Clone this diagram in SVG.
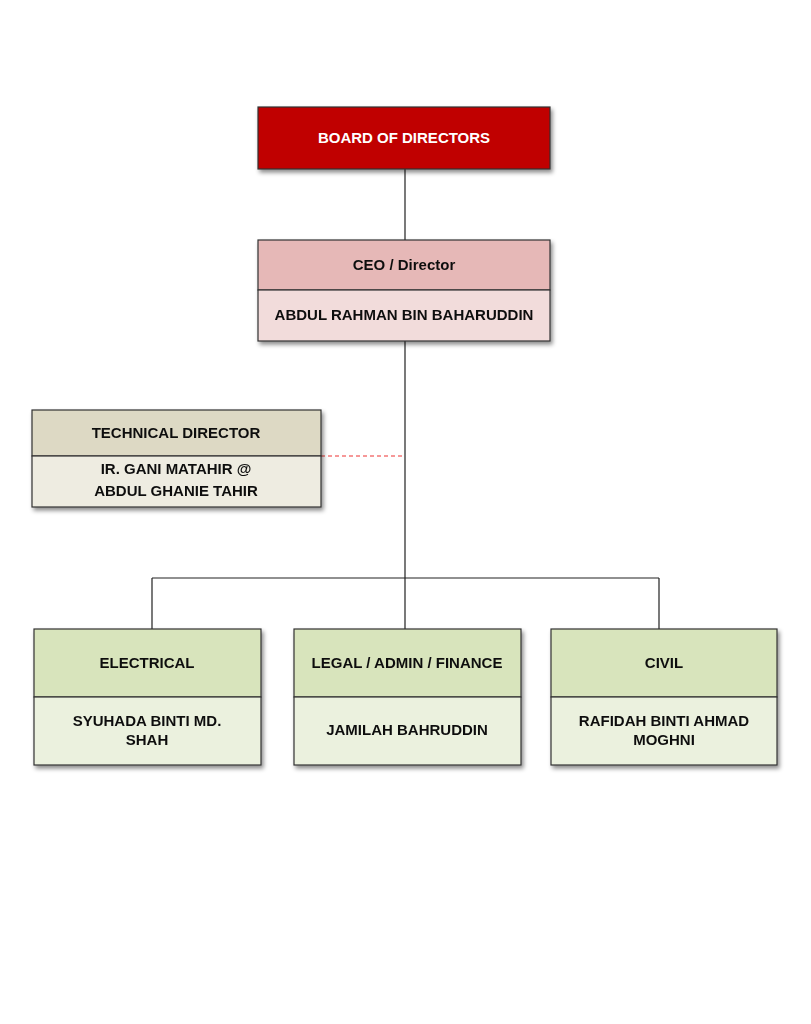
<svg xmlns="http://www.w3.org/2000/svg" width="811" height="1024" viewBox="0 0 811 1024">
<defs>
<filter id="sh" x="-10%" y="-10%" width="130%" height="140%"><feDropShadow dx="2" dy="3" stdDeviation="2" flood-color="#000" flood-opacity="0.45"/></filter>
</defs>
<style>
rect{stroke:#333;stroke-width:1.2}
text{font-family:"Liberation Sans",Arial,sans-serif;font-weight:bold;font-size:15px;text-anchor:middle;fill:#111}
.w{fill:#fff}
.c{stroke:#222;stroke-width:1.2;fill:none}
</style>
<rect width="811" height="1024" fill="#fff" style="stroke:none"/>
<g id="connectors">
<path class="c" d="M405 169V240M405 341V578M152 578H659M152 578V629M405 578V629M659 578V629"/>
<path d="M321 456H405" stroke="#e33" stroke-width="1.2" stroke-dasharray="4,3" fill="none"/>
</g>
<g id="board">
<rect x="258" y="107" width="292" height="62" fill="#c00000" filter="url(#sh)"/>
<text x="404" y="143" class="w">BOARD OF DIRECTORS</text>
</g>
<g id="ceo" filter="url(#sh)">
<rect x="258" y="240" width="292" height="50" fill="#e6b8b7"/>
<rect x="258" y="290" width="292" height="51" fill="#f2dcdb"/>
<text x="404" y="270">CEO / Director</text>
<text x="404" y="320">ABDUL RAHMAN BIN BAHARUDDIN</text>
</g>
<g id="tech" filter="url(#sh)">
<rect x="32" y="410" width="289" height="46" fill="#ddd9c4"/>
<rect x="32" y="456" width="289" height="51" fill="#eeece1"/>
<text x="176" y="438">TECHNICAL DIRECTOR</text>
<text x="176" y="474">IR. GANI MATAHIR @</text>
<text x="176" y="496">ABDUL GHANIE TAHIR</text>
</g>
<g id="electrical" filter="url(#sh)">
<rect x="34" y="629" width="227" height="68" fill="#d8e4bc"/>
<rect x="34" y="697" width="227" height="68" fill="#ebf1de"/>
<text x="147" y="668">ELECTRICAL</text>
<text x="147" y="726">SYUHADA BINTI MD.</text>
<text x="147" y="745">SHAH</text>
</g>
<g id="legal" filter="url(#sh)">
<rect x="294" y="629" width="227" height="68" fill="#d8e4bc"/>
<rect x="294" y="697" width="227" height="68" fill="#ebf1de"/>
<text x="407" y="668">LEGAL / ADMIN / FINANCE</text>
<text x="407" y="735">JAMILAH BAHRUDDIN</text>
</g>
<g id="civil" filter="url(#sh)">
<rect x="551" y="629" width="226" height="68" fill="#d8e4bc"/>
<rect x="551" y="697" width="226" height="68" fill="#ebf1de"/>
<text x="664" y="668">CIVIL</text>
<text x="664" y="726">RAFIDAH BINTI AHMAD</text>
<text x="664" y="745">MOGHNI</text>
</g>
</svg>
